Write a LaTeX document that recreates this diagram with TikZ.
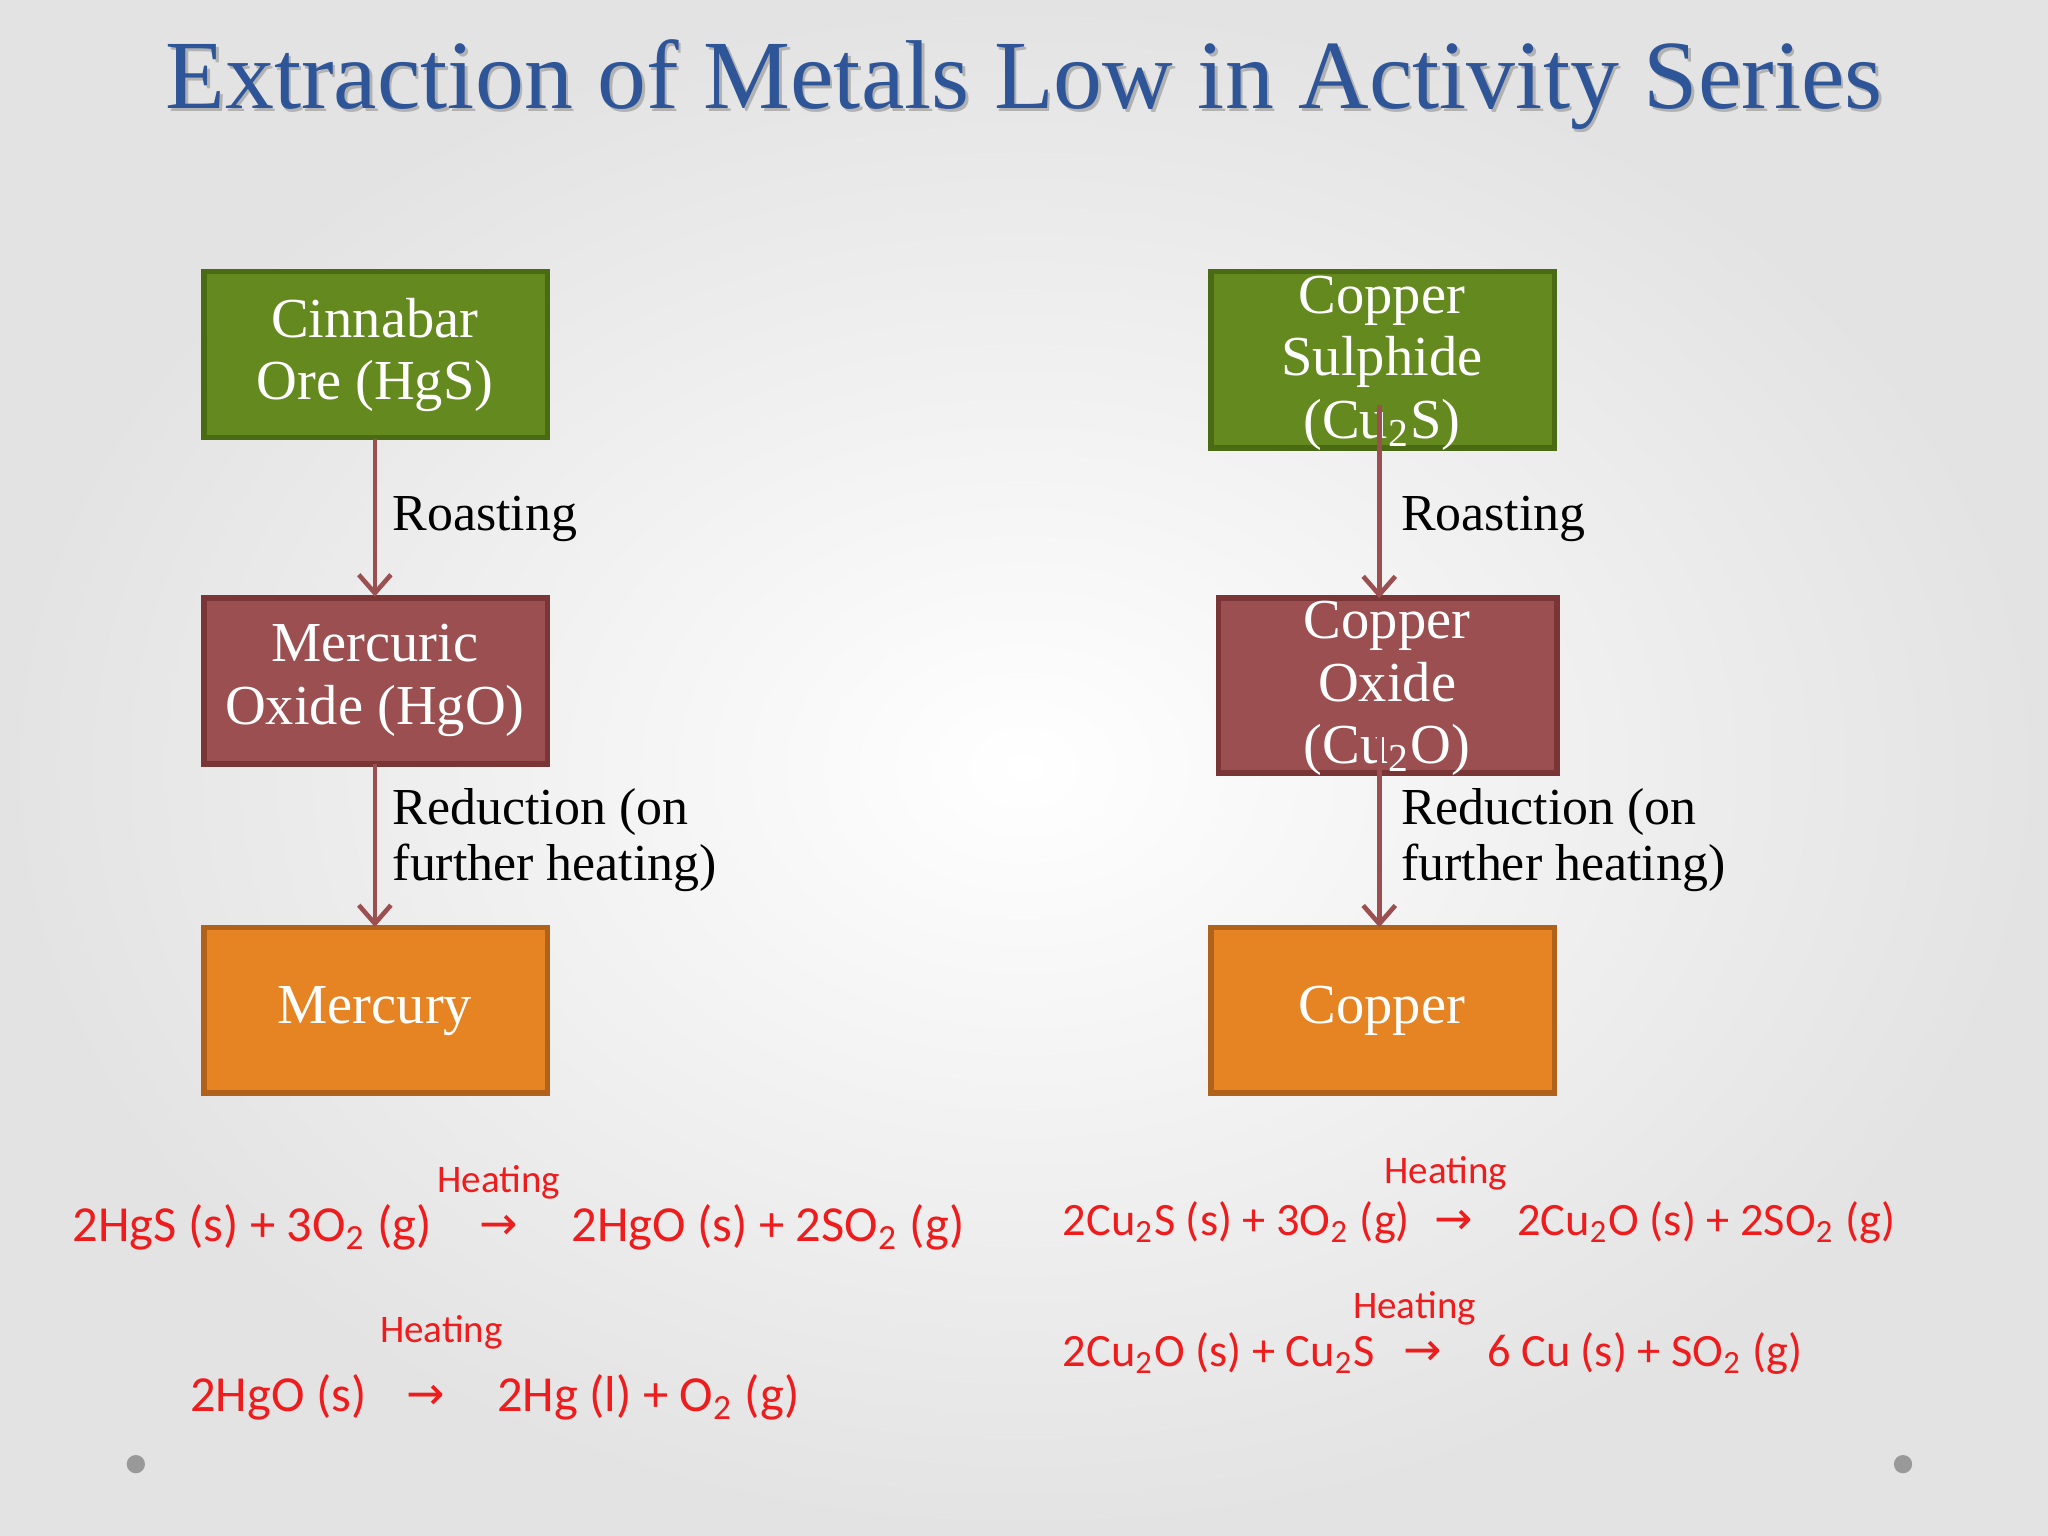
\documentclass[tikz,border=0pt]{standalone}
\usepackage{fontspec}
\setmainfont{Liberation Serif}
\newfontfamily\eqfont{Carlito}
\newfontfamily\arrfont{DejaVu Sans}
\newcommand{\ssub}[1]{\textsubscript{#1}}
\definecolor{titleblue}{HTML}{2E5597}
\definecolor{gfill}{HTML}{64891F}\definecolor{gdraw}{HTML}{4A6A14}
\definecolor{rfill}{HTML}{9B4F50}\definecolor{rdraw}{HTML}{7A3537}
\definecolor{ofill}{HTML}{E68424}\definecolor{odraw}{HTML}{B0621A}
\definecolor{eqred}{HTML}{EE1C1C}
\tikzset{
 box/.style={text=white,align=center,font=\fontsize{12.3}{13.6}\selectfont,inner sep=0pt},
 gbox/.style={line width=1.2pt,fill=gfill,draw=gdraw},
 rbox/.style={line width=1.2pt,fill=rfill,draw=rdraw},
 obox/.style={line width=1.2pt,fill=ofill,draw=odraw},
 conn/.style={draw=rfill,line width=1pt,-{Straight Barb[length=4pt,width=7pt]}},
 lab/.style={anchor=west,font=\fontsize{11.3}{12.2}\selectfont,align=left,inner sep=0pt},
 eq/.style={anchor=west,text=eqred,font=\eqfont\fontsize{11}{13}\selectfont,inner sep=0pt},
 eqr/.style={eq,font=\eqfont\fontsize{10.1}{12}\selectfont},
 heat/.style={text=eqred,font=\eqfont\fontsize{8.5}{10}\selectfont,inner sep=0pt},
 arr/.style={text=eqred,font=\arrfont\fontsize{10}{12}\selectfont,inner sep=0pt},
}
\usetikzlibrary{arrows.meta}
\begin{document}
\begin{tikzpicture}[x=0.01cm,y=-0.01cm]
\useasboundingbox (0,0) rectangle (1568,1176);
\shade[inner color=white,outer color=gray!22] (0,0) rectangle (1568,1176);
\node[text=black!30,font=\fontsize{21.3}{23}\selectfont] at (786,67) {Extraction of Metals Low in Activity Series};
\node (title) [text=titleblue,font=\fontsize{21.3}{23}\selectfont] at (784,65) {Extraction of Metals Low in Activity Series};
% left
\path[gbox] (156,208) rectangle (419,335);
\node (cin) at (287,272) [box,minimum width=2.63cm,minimum height=1.27cm] {Cinnabar\\Ore (HgS)};
\path[rbox] (156,458) rectangle (419,585);
\node (hgo) at (287,521) [box,minimum width=2.63cm,minimum height=1.27cm] {Mercuric\\Oxide (HgO)};
\path[obox] (156,710) rectangle (419,837);
\node (hg) at (287,774) [box,minimum width=2.63cm,minimum height=1.27cm] {Mercury};
\draw[conn] (cin.south) -- (hgo.north);
\draw[conn] (hgo.south) -- (hg.north);
\node (l1) [lab] at (300,397) {Roasting};
\node (l2) [lab] at (300,643) {Reduction (on\\further heating)};
% right
\path[gbox] (927,208) rectangle (1190,343);
\node (cus) at (1058,278) [box,minimum width=2.63cm,minimum height=1.35cm] {Copper\\Sulphide\\(Cu\ssub{2}S)};
\path[rbox] (933,458) rectangle (1192,592);
\node (cuo) at (1062,527) [box,minimum width=2.59cm,minimum height=1.34cm] {Copper\\Oxide\\(Cu\ssub{2}O)};
\path[obox] (927,710) rectangle (1190,837);
\node (cu) at (1058,774) [box,minimum width=2.63cm,minimum height=1.27cm] {Copper};
\coordinate (a1) at (1056,310);
\coordinate (a2) at (1056,458);
\coordinate (a3) at (1056,560);
\coordinate (a4) at (1056,710);
\draw[conn] (a1) -- (a2);
\draw[conn] (a3) -- (a4);
\node (l3) [lab] at (1072,397) {Roasting};
\node (l4) [lab] at (1072,643) {Reduction (on\\further heating)};
% equations left
\node (e1) [eq] at (55,940) {2HgS (s) + 3O\ssub{2} (g)};
\node (h1) [heat] at (382,905) {Heating};
\node (r1) [arr] at (382,940) {→};
\node (e2) [eq] at (437,940) {2HgO (s) + 2SO\ssub{2} (g)};
\node (e3) [eq] at (145,1070) {2HgO (s)};
\node (h2) [heat] at (338,1020) {Heating};
\node (r2) [arr] at (326,1070) {→};
\node (e4) [eq] at (380,1070) {2Hg (l) + O\ssub{2} (g)};
% equations right
\node (e5) [eqr] at (813,936) {2Cu\ssub{2}S (s) + 3O\ssub{2} (g)};
\node (h3) [heat] at (1107,898) {Heating};
\node (r3) [arr] at (1113,936) {→};
\node (e6) [eqr] at (1161,936) {2Cu\ssub{2}O (s) + 2SO\ssub{2} (g)};
\node (e7) [eqr] at (813,1036) {2Cu\ssub{2}O (s) + Cu\ssub{2}S};
\node (h4) [heat] at (1083,1002) {Heating};
\node (r4) [arr] at (1089,1036) {→};
\node (e8) [eqr] at (1138,1036) {6 Cu (s) + SO\ssub{2} (g)};
\fill[gray!80] (104,1121) circle (7);
\fill[gray!80] (1457,1121) circle (7);
\end{tikzpicture}
\end{document}
